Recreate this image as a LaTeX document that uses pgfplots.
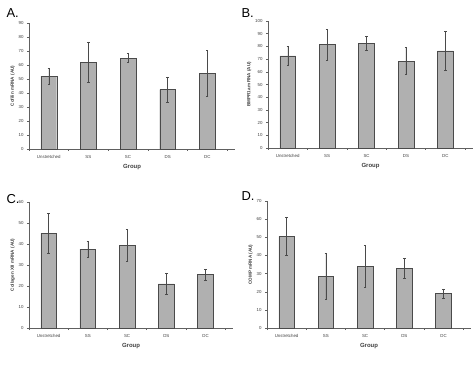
\documentclass[border=0pt]{standalone}
\usepackage{pgfplots}
\pgfplotsset{compat=1.18}
\usepackage{fontspec}
\setmainfont{Liberation Sans}
\definecolor{barfill}{HTML}{B0B0B0}
\definecolor{baredge}{HTML}{4A4A4A}
\definecolor{axgray}{HTML}{606060}
\pgfplotsset{
  panel/.style={
    scale only axis,
    anchor=south west,
    axis lines=left,
    axis line style={axgray,line width=0.5pt,-},
    ymin=0,
    xmin=-0.5, xmax=4.7,
    xtick={0,1,2,3,4},
    xticklabels={Unstretched,SS,SC,DS,DC},
    minor xtick={-0.5,0.5,1.5,2.5,3.5,4.5},
    major x tick style={draw=none},
    minor x tick style={axgray,line width=0.4pt},
    minor tick length=2bp,
    y tick style={axgray,line width=0.4pt},
    major tick length=2bp,
    tick align=outside,
    ytick distance=10,
    tick label style={font=\fontsize{4.4}{4.4}\selectfont, text=black!75},
    /pgf/number format/assume math mode=true,
    xlabel={Group},
    xlabel style={font=\fontsize{6}{6}\selectfont\bfseries, text=black!75, yshift=1bp},
    ylabel style={font=\fontsize{4.6}{4.6}\selectfont\bfseries, text=black!75, yshift=-3bp},
    xticklabel style={yshift=-0.5bp},
    ybar, bar width=0.4,
    clip=false,
  },
  barplot/.style={
    fill=barfill, draw=baredge, line width=0.45pt,
    error bars/.cd, y dir=both, y explicit,
    error bar style={baredge,line width=0.4pt},
    error mark options={rotate=90, mark size=1.2pt, baredge, line width=0.4pt},
  },
}
\begin{document}
\begin{tikzpicture}
\useasboundingbox (0bp,0bp) rectangle (474bp,366bp);
% Panel labels
\node[anchor=base west, font=\fontsize{13}{13}\selectfont] at (3bp,348bp) {A.};
\node[anchor=base west, font=\fontsize{13}{13}\selectfont] at (238bp,348bp) {B.};
\node[anchor=base west, font=\fontsize{13}{13}\selectfont] at (3bp,162bp) {C.};
\node[anchor=base west, font=\fontsize{13}{13}\selectfont] at (238bp,165bp) {D.};

\begin{axis}[panel, at={(29bp,217bp)}, width=206bp, height=126bp, ymax=90,
  ylabel={Cofilin mRNA (AU)}]
\addplot[barplot] coordinates {
  (0,52) +- (0,5.5)
  (1,62) +- (0,14.5)
  (2,65) +- (0,3.3)
  (3,42.5) +- (0,9)
  (4,54) +- (0,16.5)
};
\end{axis}

\begin{axis}[panel, at={(268bp,218bp)}, width=205bp, height=127bp, ymax=100,
  ylabel={BMPR1a mRNA (AU)}]
\addplot[barplot] coordinates {
  (0,72.5) +- (0,7.5)
  (1,81.5) +- (0,12)
  (2,82.5) +- (0,5.5)
  (3,68.5) +- (0,10.5)
  (4,76.5) +- (0,15.5)
};
\end{axis}

\begin{axis}[panel, at={(29bp,38bp)}, width=204bp, height=126bp, ymax=60,
  ylabel={Collagen XII mRNA (AU)}]
\addplot[barplot] coordinates {
  (0,45) +- (0,9.5)
  (1,37.5) +- (0,4)
  (2,39.5) +- (0,7.5)
  (3,21) +- (0,5)
  (4,25.5) +- (0,2.5)
};
\end{axis}

\begin{axis}[panel, at={(267bp,38bp)}, width=204bp, height=127bp, ymax=70,
  ylabel={COMP mRNA (AU)}]
\addplot[barplot] coordinates {
  (0,50.5) +- (0,10.5)
  (1,28.5) +- (0,12.5)
  (2,34) +- (0,11.5)
  (3,33) +- (0,5.5)
  (4,19) +- (0,2.5)
};
\end{axis}
\end{tikzpicture}
\end{document}
